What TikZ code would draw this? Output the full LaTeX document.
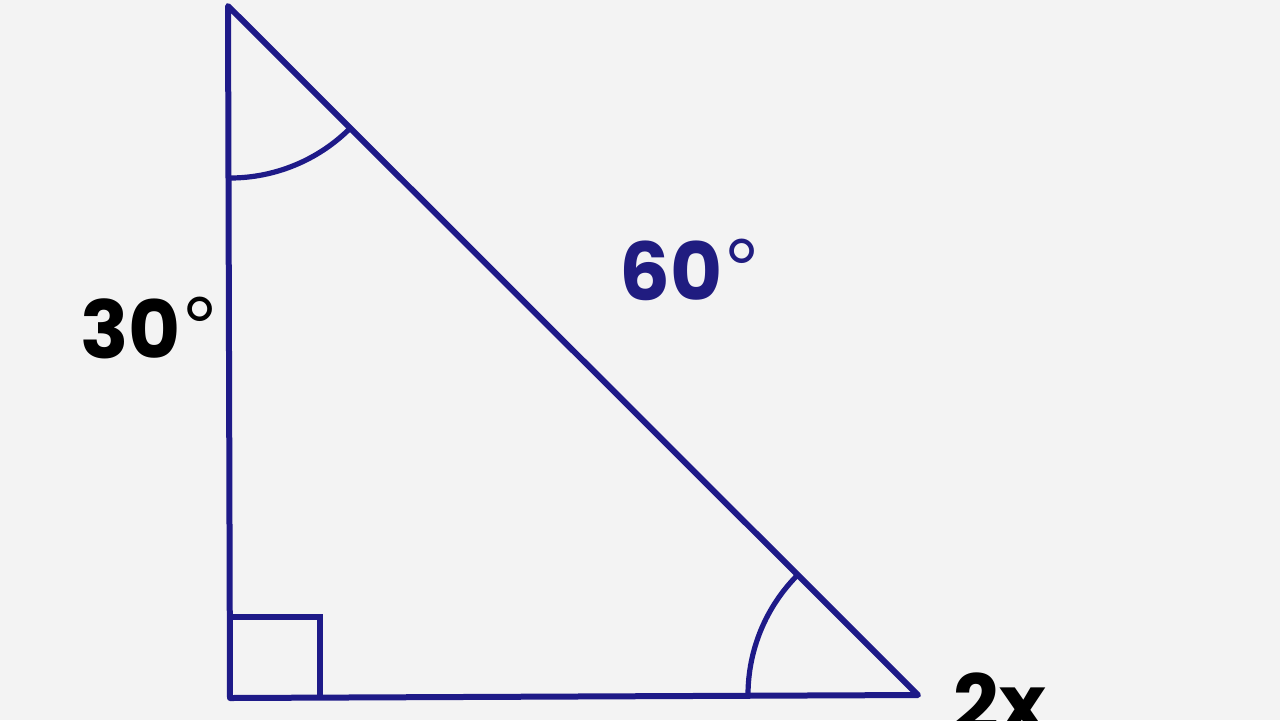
\documentclass[tikz,border=0pt]{standalone}
\usepackage{fontspec}
\setmainfont{Poppins}
\newfontfamily\degfont{Liberation Sans}
\definecolor{bg}{HTML}{F3F3F3}
\definecolor{tri}{HTML}{1E1A88}
\definecolor{lab}{HTML}{201C80}
\newcommand{\dgr}{{\degfont\fontsize{44}{44}\selectfont\mdseries\hspace{1pt}°}}
\begin{document}
\begin{tikzpicture}[x=0.5pt,y=-0.5pt,
  edge/.style={draw=tri,line width=3pt,line join=round,line cap=round},
  thin edge/.style={draw=tri,line width=2.6pt},
  lbl/.style={font=\fontsize{40}{40}\selectfont\bfseries,inner sep=0pt,anchor=base west}]
\fill[bg] (0,0) rectangle (1280,720);
\useasboundingbox (0,0) rectangle (1280,720);
\coordinate (T) at (228,6);
\coordinate (BL) at (230,698);
\coordinate (BR) at (918,695);
\draw[edge] (T) -- (BL) -- (BR) -- cycle;
% right angle
\draw[thin edge] (230,617) -- (320,617) -- (320,697);
% angle arcs
\draw[thin edge] (230,178) arc[start angle=90,end angle=45,radius=170];
\draw[thin edge] (748,695) arc[start angle=180,end angle=225,radius=170];
\node[lbl,text=black] (a30) at (80,358) {30\dgr};
\node[lbl,text=lab] (a60) at (619,300) {60\dgr};
\node[lbl,text=black] (x2) at (953,732) {2x};
\end{tikzpicture}
\end{document}
